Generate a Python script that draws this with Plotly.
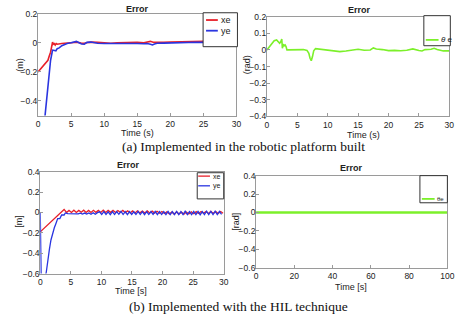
import numpy as np
import plotly.graph_objects as go

W, H = 474, 328

# ---------------- data ----------------
# (a) left: xe, ye [m]
a_xe_t = [0, 0.4, 0.8, 1.2, 1.5, 1.7, 1.9, 2.05, 2.2, 2.3, 2.45, 2.6, 2.75, 2.9, 3.1, 3.3, 3.6, 4.0, 4.5, 5.0,
          5.5, 6, 6.5, 7, 7.5, 8, 9, 10, 11, 12, 13, 14, 15, 16, 16.7, 17, 17.4, 18, 19, 20,
          21, 22, 23, 24, 25, 26, 27, 28, 29, 30]
a_xe_v = [-0.2, -0.18, -0.16, -0.14, -0.12, -0.09, -0.065, -0.03, 0.005, -0.01, -0.005, -0.015, -0.005, -0.01, -0.01, -0.005, -0.005, -0.003, 0, 0.002,
          0.005, 0.004, -0.002, -0.004, 0.002, 0.005, 0.003, 0, -0.003, 0, 0.002, 0.004, 0.003, 0, 0.006, 0.01, 0.004, 0.003, 0.004, 0.005,
          0.007, 0.008, 0.006, 0.008, 0.01, 0.008, 0.006, 0.007, 0.005, 0.006]
a_ye_t = [1.0, 1.3, 1.6, 1.9, 2.2, 2.5, 2.7, 2.9, 3.2, 3.6, 4.0, 4.4, 5.0, 5.5, 5.8, 6.2, 6.6, 7.0, 7.4, 8,
          9, 10, 11, 12, 13, 14, 15, 16, 16.5, 17, 17.3, 17.6, 18, 19, 20, 21, 22, 23, 24, 25, 26, 27, 28, 29, 30]
a_ye_v = [-0.53, -0.38, -0.24, -0.12, -0.05, -0.05, -0.055, -0.04, -0.035, -0.02, -0.01, -0.005, 0, 0.005, 0.01, 0, -0.008, -0.01, 0.003, 0.005,
          -0.003, -0.005, -0.004, -0.005, -0.002, -0.003, -0.005, -0.006, -0.005, -0.01, -0.015, -0.008, -0.003,
          -0.002, 0, 0.002, 0, 0.003, 0.004, 0.003, 0.002, 0.004, 0.003, 0.004, 0.003]

# (a) right: theta e [rad]
a_th_t = [0, 0.4, 0.8, 1.2, 1.6, 1.9, 2.1, 2.3, 2.45, 2.55, 2.7, 2.85, 3.0, 3.15, 3.3, 3.5, 4, 5, 6, 6.6,
          6.9, 7.1, 7.3, 7.5, 7.7, 8.0, 8.5, 9, 10, 11, 11.5, 12, 13, 14, 15, 16, 17, 17.5, 18, 19,
          20, 21, 22, 23, 24, 25, 25.5, 26, 27, 27.5, 28, 29, 30]
a_th_v = [0, 0.02, 0.04, 0.055, 0.06, 0.05, 0.04, 0.05, 0.065, 0.01, 0.035, 0.025, 0.03, 0.02, 0.0, 0.0, 0.0, 0.002, 0.002, -0.003,
          -0.02, -0.05, -0.065, -0.04, -0.005, 0.008, 0.006, 0.004, 0.002, -0.002, -0.008, -0.01, -0.006, -0.002, 0.004, -0.002, 0.0, 0.012, 0.006, 0.002,
          -0.004, -0.003, -0.005, -0.002, 0.006, -0.004, -0.006, 0.002, 0.004, 0.01, 0.002, -0.006, -0.006]

# (b) left: xe, ye [m]
b_xe_ramp_t = [0, 3.9, 4.3]
b_xe_ramp_v = [-0.19, 0.03, 0.0]
b_xe_osc_v = [0.02, 0.0, 0.022, 0.0, 0.02, 0.002, 0.022, 0.0, 0.02, 0.0, 0.021, 0.001, 0.02, 0.0, 0.022, 0.0, 0.02, 0.001, 0.02, 0.0, 0.019, 0.0, 0.02, -0.001,
              0.016, -0.004, 0.015, -0.005, 0.016, -0.004, 0.014, -0.006, 0.015, -0.005, 0.013, -0.006, 0.012, -0.008, 0.01,
              -0.01, 0.006, -0.014, 0.004, -0.016, 0.005, -0.015, 0.003, -0.017, 0.004, -0.014, 0.006, -0.012,
              0.008, -0.01, 0.01, -0.008, 0.009, -0.01, 0.01, -0.009, 0.008, -0.01, 0.009, -0.008]
b_xe_osc_start, b_xe_osc_step = 4.7, 0.4

b_ye_early_t = [0, 0.15, 0.4, 0.7, 1.0, 1.25, 1.5, 1.75, 2.0, 2.3, 2.55, 2.85, 3.2, 3.5, 3.9, 4.1, 4.5]
b_ye_early_v = [0.0, -0.65, -0.7, -0.68, -0.58, -0.45, -0.36, -0.27, -0.2, -0.15, -0.11, -0.06, -0.06, -0.025, -0.025, -0.005, -0.012]
b_ye_osc_v = [-0.012, -0.008, -0.014, -0.008, -0.014, -0.006, -0.015, -0.006, -0.016, -0.004, -0.017, -0.003, -0.018, -0.002,
              0.006, -0.02, 0.008, -0.019, 0.007, -0.021, 0.009, -0.02, 0.008, -0.018,
              0.01, -0.02, 0.008, -0.021, 0.009, -0.019, 0.007, -0.02, 0.01, -0.02,
              0.008, -0.022, 0.009, -0.02, 0.008, -0.019, 0.01, -0.021, 0.009, -0.02,
              0.008, -0.02, 0.011, -0.021, 0.009, -0.02, 0.01, -0.022, 0.008, -0.02,
              0.012, -0.02, 0.009, -0.021, 0.01, -0.02, 0.011, -0.022, 0.009, -0.02,
              0.012, -0.021, 0.01, -0.02, 0.013, -0.02, 0.01, -0.018]
b_ye_osc_start, b_ye_osc_step = 4.8, 0.35

# (b) right: theta e [rad]
b_th_t = [0, 25, 50, 75, 100]
b_th_v = [0, 0, 0, 0, 0]

# ---------------- build ----------------
RED = "#e8202a"
BLUE = "#2a35e0"
GREEN = "#7cf02a"
AXC = "#9a9a9a"
FONT = "Liberation Sans"

b_xe_t = b_xe_ramp_t + list(b_xe_osc_start + b_xe_osc_step * np.arange(len(b_xe_osc_v)))
b_xe_v = b_xe_ramp_v + b_xe_osc_v
b_ye_t = b_ye_early_t + list(b_ye_osc_start + b_ye_osc_step * np.arange(len(b_ye_osc_v)))
b_ye_v = b_ye_early_v + b_ye_osc_v

fig = go.Figure()
fig.add_trace(go.Scatter(x=a_xe_t, y=a_xe_v, mode="lines", line=dict(color=RED, width=1.6), xaxis="x", yaxis="y", name="xe"))
fig.add_trace(go.Scatter(x=a_ye_t, y=a_ye_v, mode="lines", line=dict(color=BLUE, width=1.6), xaxis="x", yaxis="y", name="ye"))
fig.add_trace(go.Scatter(x=a_th_t, y=a_th_v, mode="lines", line=dict(color=GREEN, width=1.6), xaxis="x2", yaxis="y2", name="θ e"))
fig.add_trace(go.Scatter(x=b_xe_t, y=b_xe_v, mode="lines", line=dict(color=RED, width=1.3), xaxis="x3", yaxis="y3", name="xe"))
fig.add_trace(go.Scatter(x=b_ye_t, y=b_ye_v, mode="lines", line=dict(color=BLUE, width=1.3), xaxis="x3", yaxis="y3", name="ye"))
fig.add_trace(go.Scatter(x=b_th_t, y=b_th_v, mode="lines", line=dict(color=GREEN, width=2.5), xaxis="x4", yaxis="y4", name="θe"))


def px(x0, x1):
    return [x0 / W, x1 / W]


def py(top, bottom):
    return [1 - bottom / H, 1 - top / H]


tickfont = dict(family=FONT, size=8.5, color="#222")
common = dict(showline=True, mirror=True, linecolor=AXC, linewidth=1, ticks="inside", ticklen=3,
              tickcolor=AXC, showgrid=False, zeroline=False, tickfont=tickfont)
xc = dict(common, ticklabelstandoff=0)
yc = dict(common, ticklabelstandoff=-2)

layout = dict(
    width=W, height=H, margin=dict(l=0, r=0, t=0, b=0),
    paper_bgcolor="white", plot_bgcolor="white", showlegend=False,
    xaxis=dict(domain=px(36.7, 239), range=[0, 30], dtick=5, anchor="y", **xc),
    yaxis=dict(domain=py(9, 114), range=[-0.5, 0.2], dtick=0.2, anchor="x", **yc),
    xaxis2=dict(domain=px(270, 456), range=[0, 30], dtick=5, anchor="y2", **xc),
    yaxis2=dict(domain=py(12, 115), range=[-0.4, 0.2], dtick=0.1, anchor="x2", **yc),
    xaxis3=dict(domain=px(39, 226), range=[0, 30], dtick=5, anchor="y3", **xc),
    yaxis3=dict(domain=py(172, 277), range=[-0.6, 0.4], dtick=0.2, anchor="x3", **yc),
    xaxis4=dict(domain=px(259, 454), range=[0, 100], dtick=20, anchor="y4", **xc),
    yaxis4=dict(domain=py(176, 271), range=[-0.6, 0.4], dtick=0.2, anchor="x4", **yc),
)
fig.update_layout(**layout)

shapes = []
annotations = []


def box(x0, y0, x1, y1):
    shapes.append(dict(type="rect", xref="paper", yref="paper", x0=x0 / W, x1=x1 / W,
                       y0=1 - y1 / H, y1=1 - y0 / H, fillcolor="white",
                       line=dict(color="#333", width=1), layer="above"))


def sample(x0, x1, y, color, width):
    shapes.append(dict(type="line", xref="paper", yref="paper", x0=x0 / W, x1=x1 / W,
                       y0=1 - y / H, y1=1 - y / H, line=dict(color=color, width=width), layer="above"))


def text(x, y, s, size=9, bold=False, xanchor="left", family=FONT, color="#222", angle=0):
    annotations.append(dict(xref="paper", yref="paper", x=x / W, y=1 - y / H, text=("<b>%s</b>" % s) if bold else s,
                            showarrow=False, xanchor=xanchor, yanchor="middle", textangle=angle,
                            font=dict(family=family, size=size, color=color)))


# legends
box(205, 8, 240, 43)
sample(208, 220, 15.5, RED, 1.8)
sample(208, 220, 26.5, BLUE, 1.8)
text(221, 15.5, "xe", 9)
text(221, 26.5, "ye", 9)

box(430, 11, 457, 42)
sample(432, 445, 36, GREEN, 1.8)
text(445, 36, "<i>θ</i> e", 8)

box(199, 173, 226, 200)
sample(200, 212, 176.5, RED, 1.3)
sample(200, 212, 186.5, BLUE, 1.3)
text(213, 176.5, "xe", 7)
text(213, 186.5, "ye", 7)

box(426, 176, 454, 204)
sample(428, 441, 200, GREEN, 1.8)
text(441, 200, "θe", 6)

# titles
text(138, 4, "Error", 9, bold=True, xanchor="center")
text(364, 5, "Error", 9, bold=True, xanchor="center")
text(129, 165, "Error", 9, bold=True, xanchor="center")
text(356, 168, "Error", 9, bold=True, xanchor="center")

# axis titles
text(138, 132, "Time (s)", 9, xanchor="center")
text(18, 62, "(m)", 9, xanchor="center", angle=-90)
text(368, 134, "Time (s)", 9, xanchor="center")
text(250, 62, "(rad)", 9, xanchor="center", angle=-90)
text(132, 295, "Time [s]", 9, xanchor="center")
text(18, 223, "[m]", 9, xanchor="center", angle=-90)
text(356, 291, "Time [s]", 9, xanchor="center")
text(239, 223, "[rad]", 9, xanchor="center", angle=-90)

# captions
text(246, 146, "(a) Implemented in the robotic platform built", 13.5, xanchor="center", family="Liberation Serif", color="#111")
text(241, 311, "(b) Implemented with the HIL technique", 13.5, xanchor="center", family="Liberation Serif", color="#111")

fig.update_layout(shapes=shapes, annotations=annotations)
fig.write_html("out.html")
